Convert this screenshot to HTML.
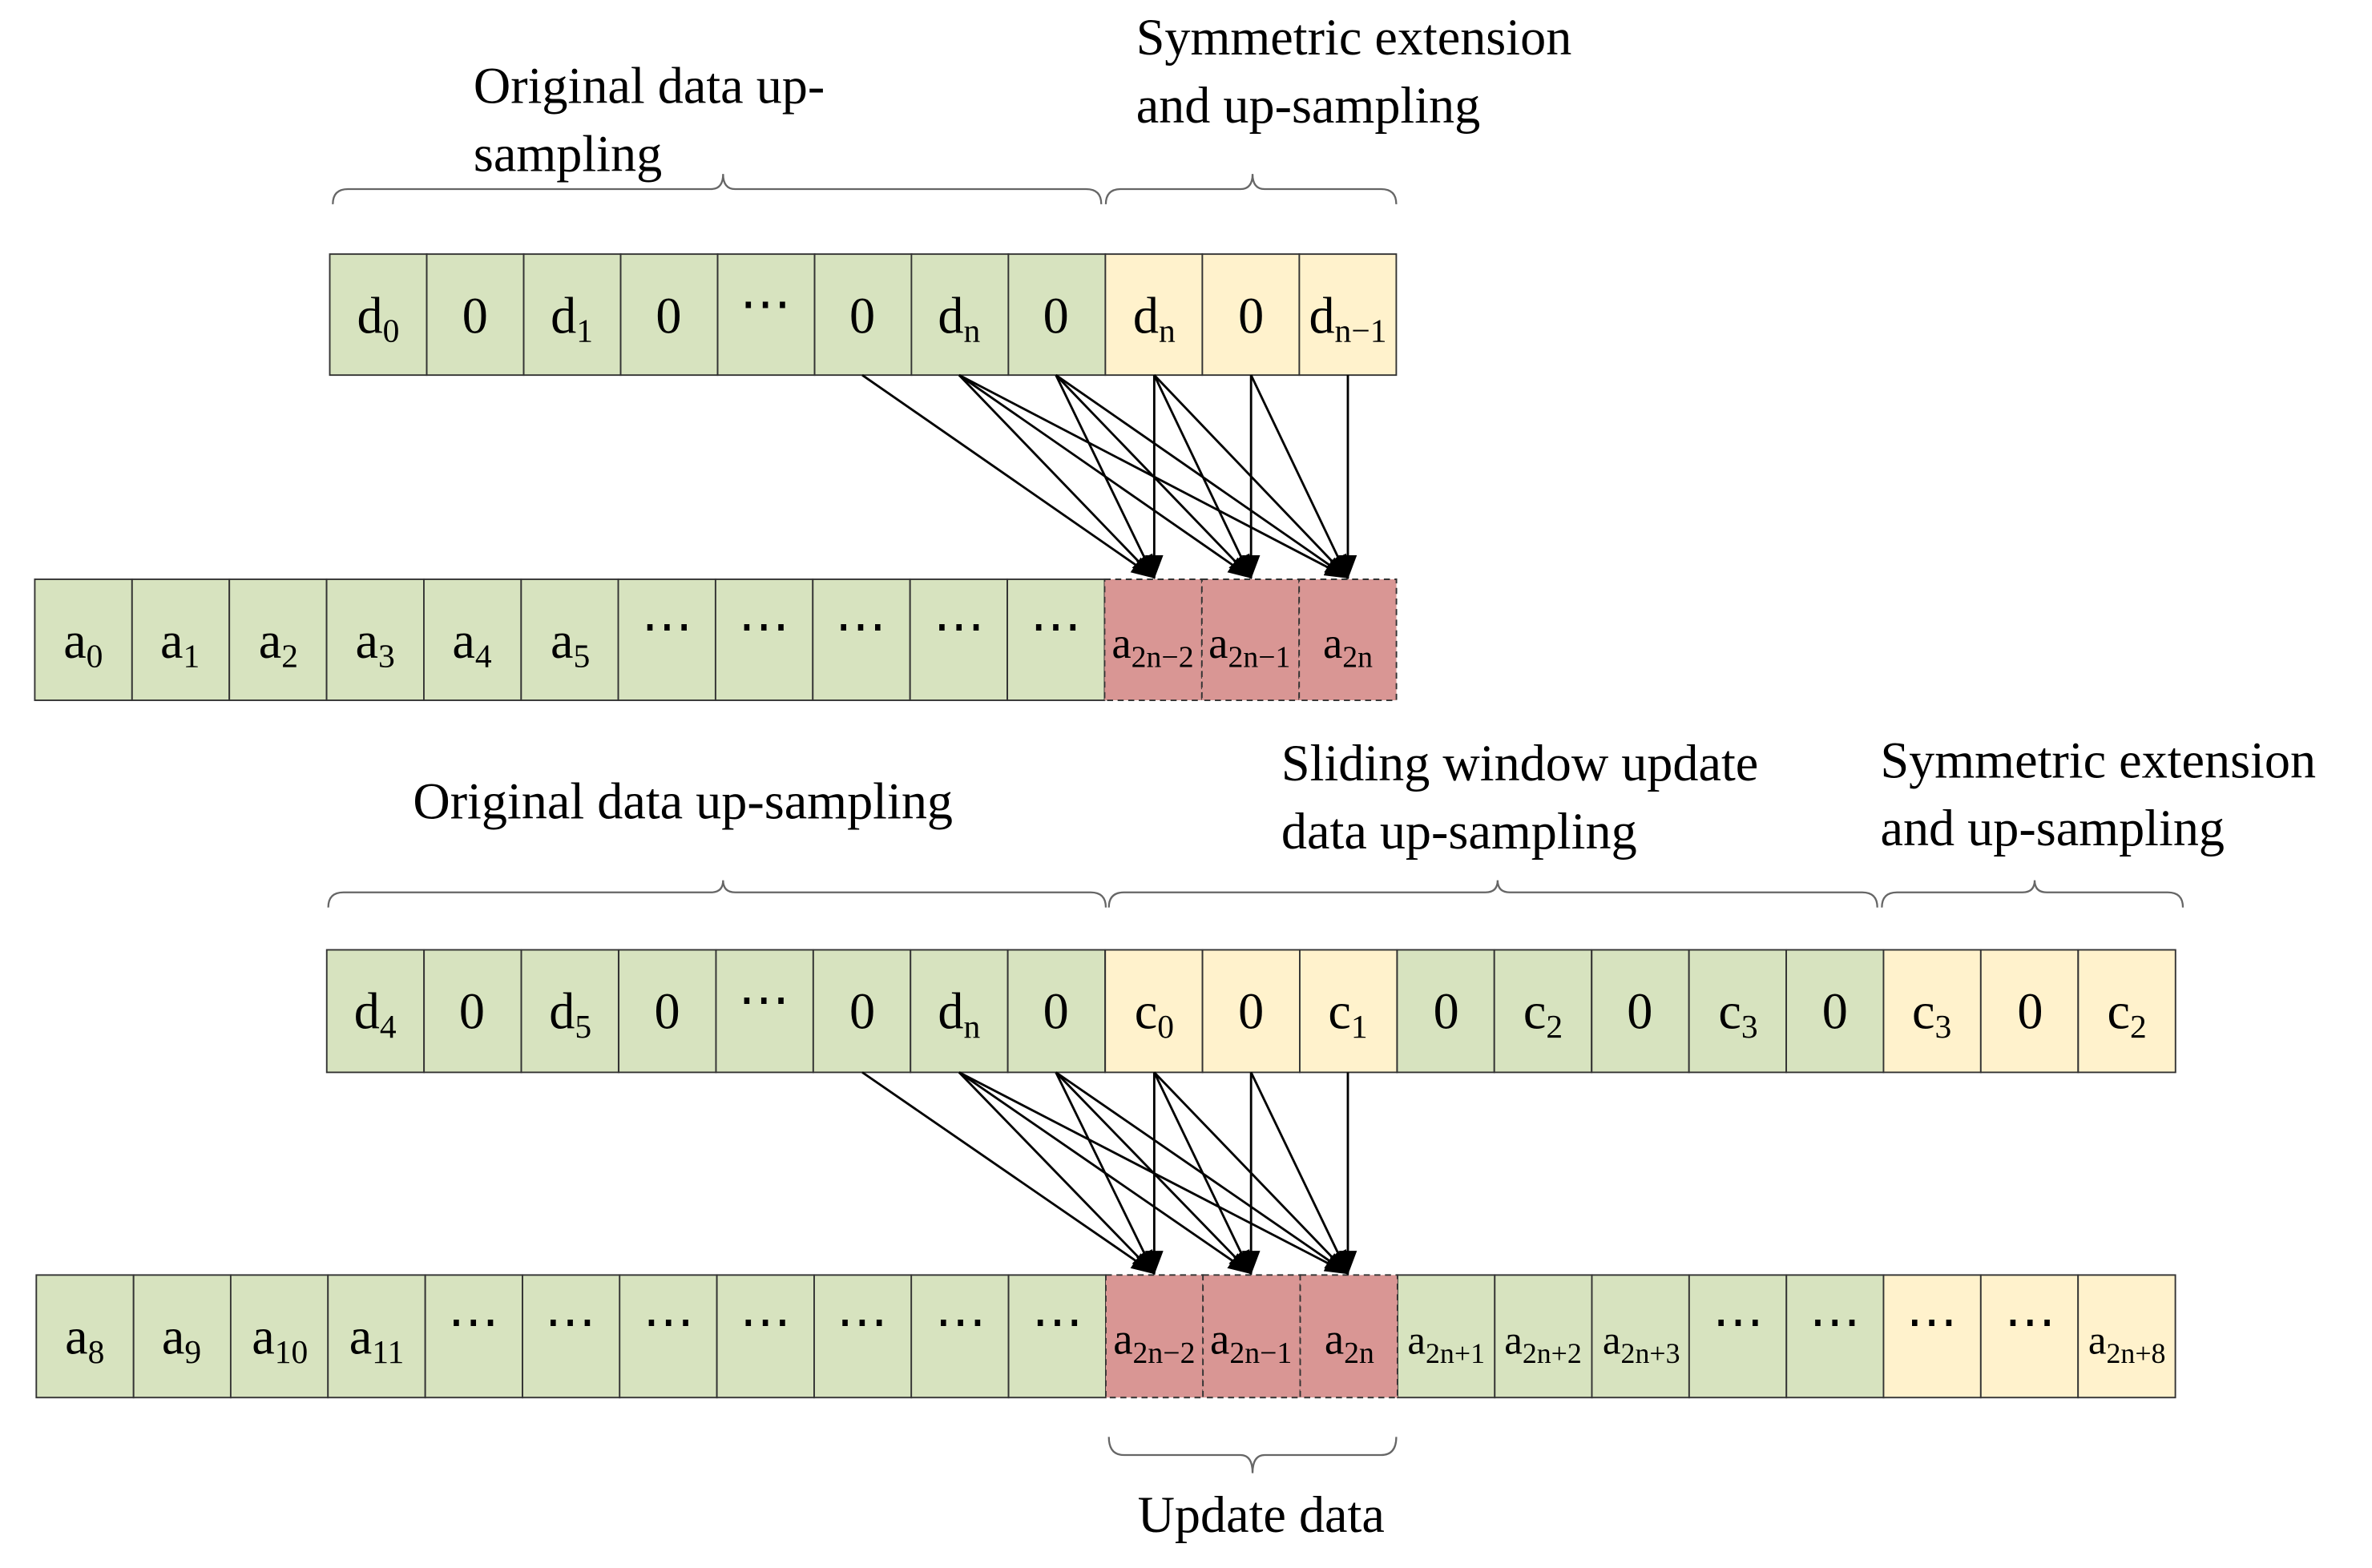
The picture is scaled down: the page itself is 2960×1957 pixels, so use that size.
<!DOCTYPE html>
<html><head><meta charset="utf-8"><style>html,body{margin:0;padding:0;background:#fff}svg{display:block}</style></head>
<body>
<svg width="2960" height="1957" viewBox="0 0 1568 1036.7" preserveAspectRatio="none" xmlns="http://www.w3.org/2000/svg" font-family="Liberation Serif, serif">
<defs><marker id="ah" markerWidth="10" markerHeight="8" refX="9" refY="4" orient="auto" markerUnits="userSpaceOnUse"><path d="M0,0 L10,4 L0,8 z" fill="#000"/></marker>
<marker id="a" viewBox="0 0 16 12" markerWidth="16" markerHeight="12" refX="15" refY="6" orient="auto" markerUnits="userSpaceOnUse"><path d="M0,0 L16,6 L0,12 z" fill="#000"/></marker></defs>
<g font-size="34" fill="#000">
<text x="313" y="68">Original data up-</text>
<text x="313" y="113">sampling</text>
<text x="751" y="36">Symmetric extension</text>
<text x="751" y="81">and up-sampling</text>
<text x="273" y="541">Original data up-sampling</text>
<text x="847" y="516">Sliding window update</text>
<text x="847" y="561">data up-sampling</text>
<text x="1243" y="514">Symmetric extension</text>
<text x="1243" y="559">and up-sampling</text>
<text x="752" y="1013">Update data</text>
</g>
<g fill="none" stroke="#666" stroke-width="1.2">
<path d="M220,135 Q220,125 230,125 L470,125 Q478,125 478,115 Q478,125 486,125 L718,125 Q728,125 728,135"/>
<path d="M731,135 Q731,125 741,125 L820,125 Q828,125 828,115 Q828,125 836,125 L913,125 Q923,125 923,135"/>
<path d="M217,600 Q217,590 227,590 L470,590 Q478,590 478,582 Q478,590 486,590 L721,590 Q731,590 731,600"/>
<path d="M733,600 Q733,590 743,590 L982,590 Q990,590 990,582 Q990,590 998,590 L1231,590 Q1241,590 1241,600"/>
<path d="M1244,600 Q1244,590 1254,590 L1337,590 Q1345,590 1345,582 Q1345,590 1353,590 L1433,590 Q1443,590 1443,600"/>
<path d="M733,950 Q733,962 743,962 L820,962 Q828,962 828,974 Q828,962 836,962 L913,962 Q923,962 923,950"/>
</g>
<g stroke="#333" stroke-width="1">
<!-- row1 -->
<g fill="#d7e3bf">
<rect x="218" y="168" width="64.1" height="80"/><rect x="282.1" y="168" width="64.1" height="80"/><rect x="346.2" y="168" width="64.1" height="80"/><rect x="410.3" y="168" width="64.1" height="80"/><rect x="474.4" y="168" width="64.1" height="80"/><rect x="538.5" y="168" width="64.1" height="80"/><rect x="602.5" y="168" width="64.1" height="80"/><rect x="666.6" y="168" width="64.1" height="80"/>
</g>
<g fill="#fff2cc">
<rect x="730.7" y="168" width="64.1" height="80"/><rect x="794.8" y="168" width="64.1" height="80"/><rect x="858.9" y="168" width="64.1" height="80"/>
</g>
<!-- row2 -->
<g fill="#d7e3bf">
<rect x="23" y="383" width="64.3" height="80"/><rect x="87.3" y="383" width="64.3" height="80"/><rect x="151.6" y="383" width="64.3" height="80"/><rect x="215.9" y="383" width="64.3" height="80"/><rect x="280.2" y="383" width="64.3" height="80"/><rect x="344.5" y="383" width="64.3" height="80"/><rect x="408.7" y="383" width="64.3" height="80"/><rect x="473" y="383" width="64.3" height="80"/><rect x="537.3" y="383" width="64.3" height="80"/><rect x="601.6" y="383" width="64.3" height="80"/><rect x="665.9" y="383" width="64.3" height="80"/>
</g>
<g fill="#d99694" stroke-dasharray="4,3">
<rect x="730.2" y="383" width="64.3" height="80"/><rect x="794.5" y="383" width="64.3" height="80"/><rect x="858.8" y="383" width="64.3" height="80"/>
</g>
<!-- row3 -->
<g fill="#d7e3bf">
<rect x="216" y="628" width="64.3" height="81"/><rect x="280.3" y="628" width="64.3" height="81"/><rect x="344.6" y="628" width="64.3" height="81"/><rect x="409" y="628" width="64.3" height="81"/><rect x="473.3" y="628" width="64.3" height="81"/><rect x="537.6" y="628" width="64.3" height="81"/><rect x="601.9" y="628" width="64.3" height="81"/><rect x="666.2" y="628" width="64.3" height="81"/>
<rect x="923.5" y="628" width="64.3" height="81"/><rect x="987.8" y="628" width="64.3" height="81"/><rect x="1052.2" y="628" width="64.3" height="81"/><rect x="1116.5" y="628" width="64.3" height="81"/><rect x="1180.8" y="628" width="64.3" height="81"/>
</g>
<g fill="#fff2cc">
<rect x="730.6" y="628" width="64.3" height="81"/><rect x="794.9" y="628" width="64.3" height="81"/><rect x="859.2" y="628" width="64.3" height="81"/>
<rect x="1245.1" y="628" width="64.3" height="81"/><rect x="1309.4" y="628" width="64.3" height="81"/><rect x="1373.8" y="628" width="64.3" height="81"/>
</g>
<!-- row4 -->
<g fill="#d7e3bf">
<rect x="24" y="843" width="64.3" height="81"/><rect x="88.3" y="843" width="64.3" height="81"/><rect x="152.5" y="843" width="64.3" height="81"/><rect x="216.8" y="843" width="64.3" height="81"/><rect x="281.1" y="843" width="64.3" height="81"/><rect x="345.4" y="843" width="64.3" height="81"/><rect x="409.6" y="843" width="64.3" height="81"/><rect x="473.9" y="843" width="64.3" height="81"/><rect x="538.2" y="843" width="64.3" height="81"/><rect x="602.4" y="843" width="64.3" height="81"/><rect x="666.7" y="843" width="64.3" height="81"/>
<rect x="923.8" y="843" width="64.3" height="81"/><rect x="988.1" y="843" width="64.3" height="81"/><rect x="1052.3" y="843" width="64.3" height="81"/><rect x="1116.6" y="843" width="64.3" height="81"/><rect x="1180.9" y="843" width="64.3" height="81"/>
</g>
<g fill="#fff2cc">
<rect x="1245.1" y="843" width="64.3" height="81"/><rect x="1309.4" y="843" width="64.3" height="81"/><rect x="1373.7" y="843" width="64.3" height="81"/>
</g>
<g fill="#d99694" stroke-dasharray="4,3">
<rect x="731" y="843" width="64.3" height="81"/><rect x="795.2" y="843" width="64.3" height="81"/><rect x="859.5" y="843" width="64.3" height="81"/>
</g>
</g>
<!-- labels -->
<g font-size="34" text-anchor="middle" fill="#000">
<text x="250" y="220">d<tspan font-size="22" dy="6">0</tspan></text>
<text x="314" y="220">0</text>
<text x="378" y="220">d<tspan font-size="22" dy="6">1</tspan></text>
<text x="442" y="220">0</text>
<text x="506" y="212">⋯</text>
<text x="570" y="220">0</text>
<text x="634" y="220">d<tspan font-size="22" dy="6">n</tspan></text>
<text x="698" y="220">0</text>
<text x="763" y="220">d<tspan font-size="22" dy="6">n</tspan></text>
<text x="827" y="220">0</text>
<text x="891" y="220">d<tspan font-size="22" dy="6">n−1</tspan></text>

<text x="55" y="435">a<tspan font-size="22" dy="6">0</tspan></text>
<text x="119" y="435">a<tspan font-size="22" dy="6">1</tspan></text>
<text x="184" y="435">a<tspan font-size="22" dy="6">2</tspan></text>
<text x="248" y="435">a<tspan font-size="22" dy="6">3</tspan></text>
<text x="312" y="435">a<tspan font-size="22" dy="6">4</tspan></text>
<text x="377" y="435">a<tspan font-size="22" dy="6">5</tspan></text>
<text x="441" y="425">⋯</text><text x="505" y="425">⋯</text><text x="569" y="425">⋯</text><text x="634" y="425">⋯</text><text x="698" y="425">⋯</text>
<text x="762" y="435" font-size="29">a<tspan font-size="20" dy="6">2n−2</tspan></text>
<text x="826" y="435" font-size="29">a<tspan font-size="20" dy="6">2n−1</tspan></text>
<text x="891" y="435" font-size="29">a<tspan font-size="20" dy="6">2n</tspan></text>

<text x="248" y="680">d<tspan font-size="22" dy="6">4</tspan></text>
<text x="312" y="680">0</text>
<text x="377" y="680">d<tspan font-size="22" dy="6">5</tspan></text>
<text x="441" y="680">0</text>
<text x="505" y="672">⋯</text>
<text x="570" y="680">0</text>
<text x="634" y="680">d<tspan font-size="22" dy="6">n</tspan></text>
<text x="698" y="680">0</text>
<text x="763" y="680">c<tspan font-size="22" dy="6">0</tspan></text>
<text x="827" y="680">0</text>
<text x="891" y="680">c<tspan font-size="22" dy="6">1</tspan></text>
<text x="956" y="680">0</text>
<text x="1020" y="680">c<tspan font-size="22" dy="6">2</tspan></text>
<text x="1084" y="680">0</text>
<text x="1149" y="680">c<tspan font-size="22" dy="6">3</tspan></text>
<text x="1213" y="680">0</text>
<text x="1277" y="680">c<tspan font-size="22" dy="6">3</tspan></text>
<text x="1342" y="680">0</text>
<text x="1406" y="680">c<tspan font-size="22" dy="6">2</tspan></text>

<text x="56" y="895">a<tspan font-size="22" dy="6">8</tspan></text>
<text x="120" y="895">a<tspan font-size="22" dy="6">9</tspan></text>
<text x="185" y="895">a<tspan font-size="22" dy="6">10</tspan></text>
<text x="249" y="895">a<tspan font-size="22" dy="6">11</tspan></text>
<text x="313" y="885">⋯</text><text x="377" y="885">⋯</text><text x="442" y="885">⋯</text><text x="506" y="885">⋯</text><text x="570" y="885">⋯</text><text x="635" y="885">⋯</text><text x="699" y="885">⋯</text>
<text x="763" y="895" font-size="29">a<tspan font-size="20" dy="6">2n−2</tspan></text>
<text x="827" y="895" font-size="29">a<tspan font-size="20" dy="6">2n−1</tspan></text>
<text x="892" y="895" font-size="29">a<tspan font-size="20" dy="6">2n</tspan></text>
<text x="956" y="895" font-size="27">a<tspan font-size="19" dy="6">2n+1</tspan></text>
<text x="1020" y="895" font-size="27">a<tspan font-size="19" dy="6">2n+2</tspan></text>
<text x="1085" y="895" font-size="27">a<tspan font-size="19" dy="6">2n+3</tspan></text>
<text x="1149" y="885">⋯</text><text x="1213" y="885">⋯</text><text x="1277" y="885">⋯</text><text x="1342" y="885">⋯</text>
<text x="1406" y="895" font-size="27">a<tspan font-size="19" dy="6">2n+8</tspan></text>
</g>
<!-- arrows -->
<g stroke="#000" stroke-width="1.5" marker-end="url(#a)">
<line x1="570" y1="248" x2="763" y2="382"/>
<line x1="634" y1="248" x2="763" y2="382"/><line x1="634" y1="248" x2="827" y2="382"/><line x1="634" y1="248" x2="891" y2="382"/>
<line x1="698" y1="248" x2="763" y2="382"/><line x1="698" y1="248" x2="827" y2="382"/><line x1="698" y1="248" x2="891" y2="382"/>
<line x1="763" y1="248" x2="763" y2="382"/><line x1="763" y1="248" x2="827" y2="382"/><line x1="763" y1="248" x2="891" y2="382"/>
<line x1="827" y1="248" x2="827" y2="382"/><line x1="827" y1="248" x2="891" y2="382"/>
<line x1="891" y1="248" x2="891" y2="382"/>

<line x1="570" y1="709" x2="763" y2="842"/>
<line x1="634" y1="709" x2="763" y2="842"/><line x1="634" y1="709" x2="827" y2="842"/><line x1="634" y1="709" x2="891" y2="842"/>
<line x1="698" y1="709" x2="763" y2="842"/><line x1="698" y1="709" x2="827" y2="842"/><line x1="698" y1="709" x2="891" y2="842"/>
<line x1="763" y1="709" x2="763" y2="842"/><line x1="763" y1="709" x2="827" y2="842"/><line x1="763" y1="709" x2="891" y2="842"/>
<line x1="827" y1="709" x2="827" y2="842"/><line x1="827" y1="709" x2="891" y2="842"/>
<line x1="891" y1="709" x2="891" y2="842"/>
</g>
</svg>
</body></html>
